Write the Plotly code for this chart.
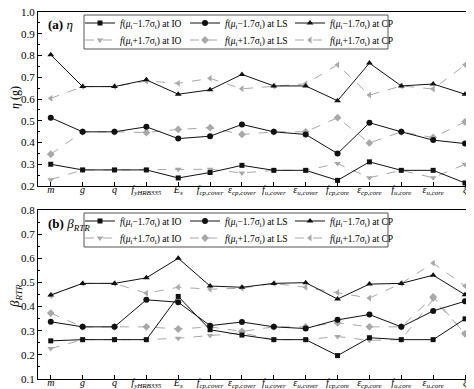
import plotly.graph_objects as go
from plotly.subplots import make_subplots

# ---------------- data ----------------
tick_labels = [
    "<i>m</i>", "<i>g</i>", "<i>q</i>", "<i>f</i><sub><i>yHRB335</i></sub>", "<i>E</i><sub><i>s</i></sub>",
    "<i>f</i><sub><i>cp,cover</i></sub>", "<i>ε</i><sub><i>cp,cover</i></sub>",
    "<i>f</i><sub><i>u,cover</i></sub>", "<i>ε</i><sub><i>u,cover</i></sub>",
    "<i>f</i><sub><i>cp,core</i></sub>", "<i>ε</i><sub><i>cp,core</i></sub>",
    "<i>f</i><sub><i>u,core</i></sub>", "<i>ε</i><sub><i>u,core</i></sub>", "<i>ξ</i>",
]
x_idx = list(range(len(tick_labels)))

series_names = [
    "<i>f</i>(<i>μ</i><sub>i</sub>−1.7σ<sub>i</sub>) at IO",
    "<i>f</i>(<i>μ</i><sub>i</sub>−1.7σ<sub>i</sub>) at LS",
    "<i>f</i>(<i>μ</i><sub>i</sub>−1.7σ<sub>i</sub>) at CP",
    "<i>f</i>(<i>μ</i><sub>i</sub>+1.7σ<sub>i</sub>) at IO",
    "<i>f</i>(<i>μ</i><sub>i</sub>+1.7σ<sub>i</sub>) at LS",
    "<i>f</i>(<i>μ</i><sub>i</sub>+1.7σ<sub>i</sub>) at CP",
]

eta_io_lo = [0.300, 0.274, 0.274, 0.274, 0.237, 0.262, 0.295, 0.272, 0.272, 0.226, 0.311, 0.272, 0.272, 0.214]
eta_ls_lo = [0.514, 0.449, 0.449, 0.472, 0.418, 0.429, 0.483, 0.449, 0.437, 0.349, 0.491, 0.449, 0.411, 0.395]
eta_cp_lo = [0.803, 0.657, 0.657, 0.688, 0.622, 0.642, 0.713, 0.660, 0.660, 0.592, 0.765, 0.660, 0.669, 0.622]
eta_io_hi = [0.229, 0.274, 0.274, 0.274, 0.277, 0.277, 0.260, 0.272, 0.272, 0.303, 0.238, 0.272, 0.238, 0.300]
eta_ls_hi = [0.346, 0.449, 0.449, 0.446, 0.460, 0.468, 0.437, 0.449, 0.449, 0.514, 0.398, 0.449, 0.423, 0.495]
eta_cp_hi = [0.603, 0.657, 0.657, 0.683, 0.672, 0.695, 0.647, 0.660, 0.670, 0.757, 0.618, 0.660, 0.646, 0.757]

beta_io_lo = [0.258, 0.263, 0.263, 0.263, 0.442, 0.304, 0.282, 0.263, 0.263, 0.197, 0.271, 0.263, 0.263, 0.349]
beta_ls_lo = [0.337, 0.316, 0.316, 0.428, 0.418, 0.321, 0.336, 0.316, 0.309, 0.345, 0.367, 0.316, 0.382, 0.422]
beta_cp_lo = [0.448, 0.496, 0.496, 0.519, 0.600, 0.485, 0.480, 0.496, 0.499, 0.431, 0.493, 0.496, 0.530, 0.449]
beta_io_hi = [0.226, 0.263, 0.263, 0.263, 0.269, 0.280, 0.291, 0.263, 0.263, 0.276, 0.260, 0.263, 0.430, 0.290]
beta_ls_hi = [0.373, 0.316, 0.316, 0.316, 0.307, 0.316, 0.297, 0.316, 0.316, 0.333, 0.316, 0.316, 0.440, 0.287]
beta_cp_hi = [0.446, 0.496, 0.496, 0.455, 0.480, 0.472, 0.476, 0.496, 0.480, 0.458, 0.435, 0.496, 0.580, 0.485]

# ---------------- styling ----------------
W, H = 474, 389
ML, MR, MT, MB = 30, 2, 4, 18
PW, PH = W - ML - MR, H - MT - MB
FONT = "Liberation Serif, Times New Roman, serif"
BLACK = "#111111"
GRAY = "#a8a8a8"

def px_x(p):
    return (p - ML) / PW

def px_y(p):
    return 1 - (p - MT) / PH

top_dom = [px_y(178), 1.0]
bot_dom = [0.0, px_y(202)]

fig = make_subplots(rows=2, cols=1)

styles = [
    dict(color=BLACK, dash="solid", symbol="square", size=5),
    dict(color=BLACK, dash="solid", symbol="circle", size=6),
    dict(color=BLACK, dash="solid", symbol="triangle-up", size=6),
    dict(color=GRAY, dash="dash", symbol="triangle-down", size=6),
    dict(color=GRAY, dash="dash", symbol="diamond", size=6),
    dict(color=GRAY, dash="dash", symbol="triangle-left", size=6),
]

panels = [
    (1, [eta_io_lo, eta_ls_lo, eta_cp_lo, eta_io_hi, eta_ls_hi, eta_cp_hi], ["legend", "legend2"]),
    (2, [beta_io_lo, beta_ls_lo, beta_cp_lo, beta_io_hi, beta_ls_hi, beta_cp_hi], ["legend3", "legend4"]),
]

# draw gray (dashed) first, then black on top
for row, data, legs in panels:
    for order in [3, 4, 5, 0, 1, 2]:
        st = styles[order]
        fig.add_trace(
            go.Scatter(
                x=x_idx, y=data[order], mode="lines+markers", name=series_names[order],
                line=dict(color=st["color"], width=1, dash=st["dash"]),
                marker=dict(symbol=st["symbol"], size=st["size"], color=st["color"]),
                legend=legs[0] if order < 3 else legs[1],
                legendrank=order + 1,
                showlegend=True,
            ),
            row=row, col=1,
        )

axis_common = dict(
    showline=True, linecolor="black", linewidth=1.2, mirror=True,
    ticks="inside", tickcolor="black", showgrid=False, zeroline=False,
    ticklabeloverflow="allow",
)

fig.update_xaxes(
    **axis_common, range=[-0.4, 13.47], tickmode="array", tickvals=x_idx,
    ticktext=tick_labels, ticklen=4, ticklabelstandoff=-6,
    tickfont=dict(family=FONT, size=10, color="black"),
)
fig.update_yaxes(**axis_common, dtick=0.1, ticklen=4,
                 tickfont=dict(family=FONT, size=11, color="black"),
                 minor=dict(ticks="inside", ticklen=2, dtick=0.05, tickcolor="black"))

fig.update_yaxes(range=[0.2, 1.0], tickformat=".1f", row=1, col=1)
fig.update_yaxes(range=[0.1, 0.8], tickformat=".1f", row=2, col=1)
fig.update_layout(
    yaxis=dict(domain=top_dom), yaxis2=dict(domain=bot_dom),
)

leg_common = dict(
    orientation="h", xanchor="left", yanchor="middle", bgcolor="rgba(0,0,0,0)",
    borderwidth=0, font=dict(family=FONT, size=9.5, color="black"),
    itemwidth=30, entrywidth=60, traceorder="normal", tracegroupgap=0,
)
fig.update_layout(
    legend=dict(**leg_common, x=px_x(72), y=px_y(15)),
    legend2=dict(**leg_common, x=px_x(72), y=px_y(32)),
    legend3=dict(**leg_common, x=px_x(72), y=px_y(213)),
    legend4=dict(**leg_common, x=px_x(72), y=px_y(230)),
)

shapes = [
    dict(type="rect", xref="paper", yref="paper", x0=px_x(76), x1=px_x(380),
         y0=px_y(41), y1=px_y(7), line=dict(color="#555555", width=1)),
    dict(type="rect", xref="paper", yref="paper", x0=px_x(76), x1=px_x(380),
         y0=px_y(239), y1=px_y(205), line=dict(color="#555555", width=1)),
]

annotations = [
    dict(text="<b>(a)</b> <i>η</i>", x=px_x(38), y=px_y(17), xref="paper", yref="paper",
         xanchor="left", yanchor="middle", showarrow=False,
         font=dict(family=FONT, size=13, color="black")),
    dict(text="<b>(b)</b> <i>β</i><sub><i>RTR</i></sub>", x=px_x(38), y=px_y(216), xref="paper",
         yref="paper", xanchor="left", yanchor="middle", showarrow=False,
         font=dict(family=FONT, size=13, color="black")),
    dict(text="<i>η</i> (g)", x=px_x(7), y=px_y(90), xref="paper", yref="paper",
         xanchor="center", yanchor="middle", textangle=-90, showarrow=False,
         font=dict(family=FONT, size=12, color="black")),
    dict(text="<i>β</i><sub><i>RTR</i></sub>", x=px_x(7), y=px_y(288), xref="paper", yref="paper",
         xanchor="center", yanchor="middle", textangle=-90, showarrow=False,
         font=dict(family=FONT, size=13, color="black")),
]

fig.update_layout(
    width=W, height=H, margin=dict(l=ML, r=MR, t=MT, b=MB, autoexpand=False),
    paper_bgcolor="white", plot_bgcolor="white",
    font=dict(family=FONT, size=11, color="black"),
    shapes=shapes, annotations=annotations,
)

fig.write_html("out.html")
